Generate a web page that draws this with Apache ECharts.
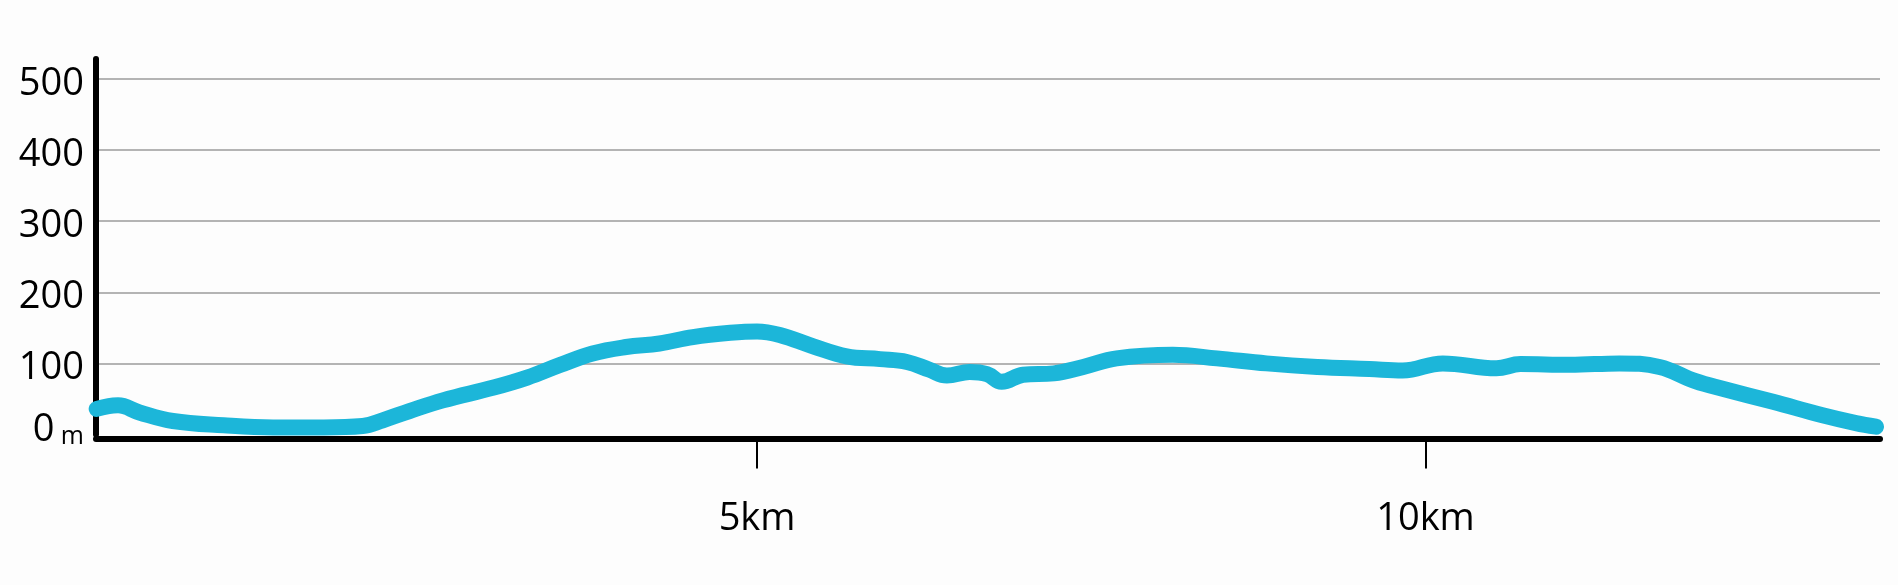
<!DOCTYPE html>
<html>
<head>
<meta charset="utf-8">
<script src="https://cdn.jsdelivr.net/npm/echarts@6/dist/echarts.min.js"></script>
<style>
  html, body { margin: 0; padding: 0; background: #fdfdfd; }
  #chart { width: 1898px; height: 585px; }
</style>
</head>
<body>
<div id="chart"></div>
<script>
// Distance along the route (km)
const distanceKm = [
  0.06, 0.15, 0.22, 0.38, 0.63, 1.01, 1.38, 1.76, 2.05, 2.20,
  2.40, 2.65, 3.03, 3.28, 3.53, 3.77, 4.02, 4.27, 4.52, 4.80,
  5.00, 5.17, 5.42, 5.67, 5.92, 6.12, 6.29, 6.42, 6.59, 6.72,
  6.83, 6.99, 7.22, 7.44, 7.69, 8.11, 8.44, 8.81, 9.19, 9.58,
  9.83, 10.13, 10.53, 10.71, 11.08, 11.45, 11.75, 12.02, 12.23, 12.60,
  12.97, 13.22, 13.37
];
// Elevation (m)
const elevationM = [
  36, 40, 41, 31, 19, 13, 10, 10, 12, 20,
  33, 48, 66, 80, 98, 114, 123, 128, 137, 143,
  145, 140, 124, 110, 106, 102, 91, 83, 88, 85,
  74, 84, 86, 95, 107, 112, 107, 100, 95, 92,
  90, 100, 93, 99, 98, 100, 95, 75, 64, 46,
  27, 16, 11
];
// Axis ticks
const xTickValues = [5, 10];
const xTickUnit = 'km';
const yTickUnit = 'm';

const points = distanceKm.map((d, i) => [d, elevationM[i]]);

const chart = echarts.init(document.getElementById('chart'), null, { renderer: 'canvas' });
const font = '"Open Sans", "Liberation Sans", sans-serif';

chart.setOption({
  backgroundColor: '#fdfdfd',
  animation: false,
  grid: { left: 96, right: 18, top: 59, bottom: 150.5, containLabel: false },
  xAxis: {
    type: 'value',
    min: 0.055,
    max: 13.40,
    offset: 4,
    axisLine: { show: true, onZero: false, lineStyle: { color: '#000', width: 6 } },
    axisTick: {
      show: true,
      customValues: xTickValues,
      length: 30,
      lineStyle: { color: '#000', width: 2 }
    },
    axisLabel: {
      show: true,
      customValues: xTickValues,
      formatter: v => v + xTickUnit,
      margin: 62,
      fontSize: 38,
      color: '#000',
      fontFamily: font
    },
    splitLine: { show: false }
  },
  yAxis: {
    type: 'value',
    min: 0,
    max: 528,
    interval: 100,
    axisLine: { show: true, lineStyle: { color: '#000', width: 6 } },
    axisTick: { show: false },
    axisLabel: {
      show: true,
      showMaxLabel: false,
      margin: 12,
      color: '#000',
      fontFamily: font,
      formatter: v => v === 0 ? '{z|0}{m| ' + yTickUnit + '}' : '{n|' + v + '}',
      rich: {
        n: { fontSize: 38, fontFamily: font, color: '#000', padding: [10, 0, 0, 0] },
        z: { fontSize: 38, fontFamily: font, color: '#000', padding: [0, 0, 9, 0], verticalAlign: 'bottom' },
        m: { fontSize: 25, fontFamily: font, color: '#000', padding: [0, 0, 9, 0], verticalAlign: 'bottom' }
      }
    },
    splitLine: {
      show: true,
      showMinLine: false,
      showMaxLine: false,
      lineStyle: { color: '#b4b4b4', width: 2 }
    }
  },
  series: [{
    type: 'line',
    data: points,
    smooth: 0.4,
    showSymbol: false,
    lineStyle: { color: '#1cb6d9', width: 16, cap: 'round', join: 'round' },
    z: 3
  }]
});
</script>
</body>
</html>
